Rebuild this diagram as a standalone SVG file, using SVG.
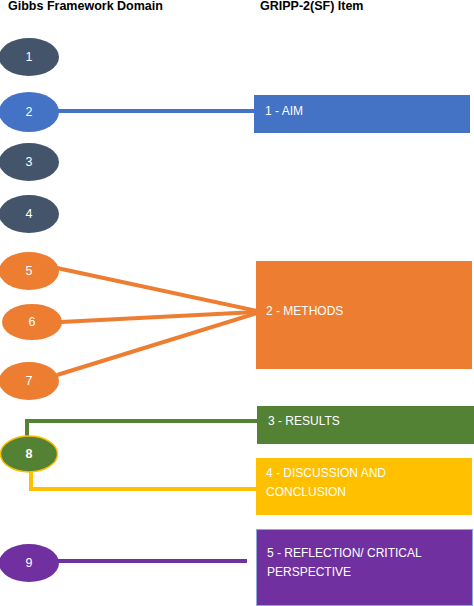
<svg xmlns="http://www.w3.org/2000/svg" width="474" height="606" viewBox="0 0 474 606">
<style>
.hdr{font-family:"Liberation Sans",Arial,sans-serif;font-size:12.5px;font-weight:bold;fill:#000}
.num{font-family:"Liberation Sans",Arial,sans-serif;font-size:12.5px;fill:#fff;text-anchor:middle}
.lbl{font-family:"Liberation Sans",Arial,sans-serif;font-size:12px;fill:#fff}
.dark{fill:#44546A}
.blue{fill:#4472C4}
.orange{fill:#ED7D31}
.green{fill:#548235}
.yellow{fill:#FFC000}
.purple{fill:#7030A0}
.conn{fill:none;stroke-width:4}
</style>
<rect width="474" height="606" fill="#fff"/>
<text class="hdr" x="8" y="10">Gibbs Framework Domain</text>
<text class="hdr" x="260" y="10">GRIPP-2(SF) Item</text>

<g id="connectors">
<line class="conn" stroke="#4472C4" x1="58" y1="111" x2="254" y2="111"/>
<line class="conn" stroke="#ED7D31" x1="57" y1="268" x2="257" y2="311"/>
<line class="conn" stroke="#ED7D31" x1="61" y1="322" x2="257" y2="312"/>
<line class="conn" stroke="#ED7D31" x1="57" y1="375" x2="257" y2="313"/>
<polyline class="conn" stroke="#548235" points="27,438 27,421 258,421"/>
<polyline class="conn" stroke="#FFC000" points="31,472 31,489 257,489"/>
<line class="conn" stroke="#7030A0" x1="58" y1="561" x2="247" y2="561"/>
</g>

<g id="d1"><ellipse class="dark" cx="29" cy="57" rx="30" ry="19"/><text class="num" x="29" y="61">1</text></g>
<g id="d2"><ellipse class="blue" cx="29" cy="112" rx="30" ry="20"/><text class="num" x="29" y="116">2</text></g>
<g id="d3"><ellipse class="dark" cx="29" cy="162" rx="30" ry="19"/><text class="num" x="29" y="166">3</text></g>
<g id="d4"><ellipse class="dark" cx="29" cy="214" rx="30" ry="19"/><text class="num" x="29" y="218">4</text></g>
<g id="d5"><ellipse class="orange" cx="29" cy="271" rx="30" ry="19"/><text class="num" x="29" y="275">5</text></g>
<g id="d6"><ellipse class="orange" cx="32" cy="322" rx="30" ry="18"/><text class="num" x="32" y="326">6</text></g>
<g id="d7"><ellipse class="orange" cx="29" cy="381" rx="30" ry="19"/><text class="num" x="29" y="385">7</text></g>
<g id="d8"><ellipse class="green" cx="29" cy="454" rx="28.5" ry="18" stroke="#FFC000" stroke-width="1.5"/><text class="num" x="29" y="458" font-weight="bold">8</text></g>
<g id="d9"><ellipse class="purple" cx="29" cy="563" rx="30" ry="19"/><text class="num" x="29" y="567">9</text></g>

<g id="i1"><rect class="blue" x="254" y="95" width="216" height="38"/><text class="lbl" x="265" y="115">1 - AIM</text></g>
<g id="i2"><rect class="orange" x="256" y="261" width="216" height="108"/><text class="lbl" x="266" y="315">2 - METHODS</text></g>
<g id="i3"><rect class="green" x="257" y="406" width="217" height="38"/><text class="lbl" x="268" y="425">3 - RESULTS</text></g>
<g id="i4"><rect class="yellow" x="256" y="458" width="216" height="57"/><text class="lbl" x="266" y="477">4 - DISCUSSION AND</text><text class="lbl" x="266" y="496">CONCLUSION</text></g>
<g id="i5"><rect class="purple" x="256.5" y="529.5" width="216" height="76" stroke="#8FA8D8" stroke-width="1"/><text class="lbl" x="267" y="557">5 - REFLECTION/ CRITICAL</text><text class="lbl" x="267" y="576">PERSPECTIVE</text></g>
</svg>
